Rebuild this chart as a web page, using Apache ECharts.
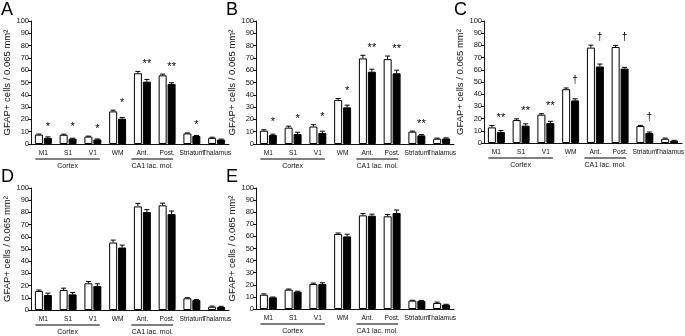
<!DOCTYPE html>
<html>
<head>
<meta charset="utf-8">
<script src="https://cdn.jsdelivr.net/npm/echarts@6/dist/echarts.min.js"></script>
<style>
html, body { margin: 0; padding: 0; background: #fff; }
#chart { width: 685px; height: 336px; }
</style>
</head>
<body>
<div id="chart"></div>
<script>
const categories = ['M1', 'S1', 'V1', 'WM', 'Ant.', 'Post.', 'Striatum', 'Thalamus']
const yTicks = [0, 10, 20, 30, 40, 50, 60, 70, 80, 90, 100]
const yTitle = 'GFAP+ cells / 0.065 mm²'

// panel A
const aWhite = [7.6, 7.5, 6, 26.5, 57.5, 55.8, 8.6, 5]
const aWhiteErr = [0.5, 0.5, 0.4, 1, 1.5, 1, 0.4, 0.5]
const aBlack = [5, 4.3, 3.7, 20.6, 50.7, 48.8, 6.5, 3.6]
const aBlackErr = [0.8, 0.4, 0.4, 1, 1.8, 1, 0.4, 0.4]
const aMarks = ['*', '*', '*', '*', '**', '**', '*', '']

// panel B
const bWhite = [10.8, 13.3, 14.2, 35.8, 69.6, 69, 10, 4.3]
const bWhiteErr = [0.8, 1.2, 1.5, 1.2, 2.5, 2.5, 0.5, 0.5]
const bBlack = [7.3, 8.1, 8.9, 29.8, 58.8, 57.5, 7, 4.5]
const bBlackErr = [0.7, 1.5, 1.5, 1.8, 2, 2.5, 0.7, 0.5]
const bMarks = ['*', '*', '*', '*', '**', '**', '**', '']

// panel C
const cWhite = [12.8, 18.8, 23.2, 44.1, 78.2, 78.7, 13.9, 3.5]
const cWhiteErr = [1.5, 1, 0.8, 1, 2, 1.3, 0.5, 0.5]
const cBlack = [9, 14.2, 16.3, 34.9, 62.7, 61, 8.2, 1.9]
const cBlackErr = [1.3, 1.5, 1.5, 1.3, 2, 1, 0.8, 0.3]
const cMarks = ['**', '**', '**', '†', '†', '†', '†', '']

// panel D
const dWhite = [15.6, 16.4, 21.9, 55.3, 84.9, 85.8, 9.6, 2.7]
const dWhiteErr = [0.8, 1.5, 1.5, 2, 2.5, 1.8, 0.5, 0.5]
const dBlack = [12.3, 12.8, 19.7, 51.2, 80.3, 78.6, 8.2, 2.5]
const dBlackErr = [1.5, 1.5, 1.8, 2, 2, 2.5, 0.4, 0.5]
const dMarks = ['', '', '', '', '', '', '', '']

// panel E
const eWhite = [11.8, 16, 20.7, 62, 77.4, 76.6, 6.9, 5]
const eWhiteErr = [0.7, 0.5, 0.7, 0.8, 1.5, 1.5, 0.3, 0.7]
const eBlack = [9.6, 14.3, 20.7, 60, 77.1, 79.3, 6.7, 3.6]
const eBlackErr = [0.3, 0.4, 1, 1.8, 1.3, 2.5, 0.4, 0.3]
const eMarks = ['', '', '', '', '', '', '', '']

const panels = [
  { letter: 'A', white: aWhite, whiteErr: aWhiteErr, black: aBlack, blackErr: aBlackErr, marks: aMarks, left: 31, top: 21, height: 123 },
  { letter: 'B', white: bWhite, whiteErr: bWhiteErr, black: bBlack, blackErr: bBlackErr, marks: bMarks, left: 256, top: 21, height: 123 },
  { letter: 'C', white: cWhite, whiteErr: cWhiteErr, black: cBlack, blackErr: cBlackErr, marks: cMarks, left: 484, top: 21, height: 122 },
  { letter: 'D', white: dWhite, whiteErr: dWhiteErr, black: dBlack, blackErr: dBlackErr, marks: dMarks, left: 31, top: 188, height: 122 },
  { letter: 'E', white: eWhite, whiteErr: eWhiteErr, black: eBlack, blackErr: eBlackErr, marks: eMarks, left: 256, top: 188, height: 121 }
]

const FONT = 'Liberation Sans, Arial, sans-serif'
const BAR_W = 8
const HALF = 4.5

const chart = echarts.init(document.getElementById('chart'), null, { renderer: 'canvas' })

const grid = []
const xAxis = []
const yAxis = []
const series = []

panels.forEach((p, i) => {
  grid.push({ left: p.left, top: p.top, width: 198, height: p.height, outerBoundsMode: 'none' })
  xAxis.push({
    type: 'category',
    gridIndex: i,
    data: categories,
    axisLine: { lineStyle: { color: '#111', width: 1 } },
    axisTick: { show: false },
    axisLabel: { fontSize: 6.6, color: '#111', fontFamily: FONT, margin: 6, interval: 0 }
  })
  yAxis.push({
    type: 'value',
    gridIndex: i,
    min: yTicks[0],
    max: yTicks[yTicks.length - 1],
    interval: 10,
    name: yTitle,
    nameLocation: 'middle',
    nameGap: 17,
    nameTextStyle: { fontSize: 9.5, color: '#111', fontFamily: FONT },
    axisLine: { show: true, lineStyle: { color: '#111', width: 1 } },
    axisTick: { show: true, length: 3, lineStyle: { color: '#111' } },
    axisLabel: { fontSize: 7.5, color: '#111', fontFamily: FONT, margin: 2 },
    splitLine: { show: false }
  })
  series.push({
    type: 'bar',
    xAxisIndex: i,
    yAxisIndex: i,
    data: p.white,
    barWidth: BAR_W,
    barGap: '12%',
    itemStyle: { color: '#fff', borderColor: '#000', borderWidth: 1 }
  })
  series.push({
    type: 'bar',
    xAxisIndex: i,
    yAxisIndex: i,
    data: p.black,
    barWidth: BAR_W,
    barGap: '12%',
    itemStyle: { color: '#000', borderColor: '#000', borderWidth: 1 }
  })
  // error bars + significance marks
  series.push({
    type: 'custom',
    xAxisIndex: i,
    yAxisIndex: i,
    data: categories.map((c, j) => [j, p.white[j]]),
    encode: { x: 0, y: 1 },
    z: 5,
    renderItem(params, api) {
      const j = params.dataIndex
      const center = api.coord([j, 0])[0]
      const children = []
      const tops = [
        [center - HALF, p.white[j], p.whiteErr[j]],
        [center + HALF, p.black[j], p.blackErr[j]]
      ]
      tops.forEach(([x, v, e]) => {
        const y0 = api.coord([j, v])[1]
        const y1 = api.coord([j, v + e])[1]
        children.push({ type: 'line', shape: { x1: x, y1: y0, x2: x, y2: y1 }, style: { stroke: '#000', lineWidth: 1 } })
        children.push({ type: 'line', shape: { x1: x - 2.5, y1: y1, x2: x + 2.5, y2: y1 }, style: { stroke: '#000', lineWidth: 1 } })
      })
      if (p.marks[j]) {
        const topVal = Math.max(p.white[j] + p.whiteErr[j], p.black[j] + p.blackErr[j])
        const ym = api.coord([j, topVal])[1] - 3
        const isDagger = p.marks[j] === '†'
        children.push({
          type: 'text',
          x: center + HALF,
          y: isDagger ? ym : ym + 1,
          style: {
            text: p.marks[j],
            fontSize: isDagger ? 10 : 11,
            fontFamily: FONT,
            fill: '#000',
            textAlign: 'center',
            textVerticalAlign: 'bottom'
          }
        })
      }
      return { type: 'group', children }
    }
  })
})

chart.setOption({
  animation: false,
  backgroundColor: '#fff',
  grid,
  xAxis,
  yAxis,
  series
})

// panel letters and region groupings below the axes
const graphic = []
panels.forEach((p, i) => {
  graphic.push({
    type: 'text',
    left: p.left - 30,
    top: p.top - 20,
    style: { text: p.letter, fontSize: 18, fontFamily: FONT, fill: '#000' }
  })
  const px = c => chart.convertToPixel({ xAxisIndex: i }, c)
  const base = p.top + p.height
  const groups = [
    { name: 'Cortex', from: px('M1') - 8, to: px('V1') + 7 },
    { name: 'CA1 lac. mol.', from: px('Ant.') - 11, to: px('Post.') + 6 }
  ]
  groups.forEach(g => {
    graphic.push({
      type: 'line',
      shape: { x1: g.from, y1: base + 15, x2: g.to, y2: base + 15 },
      style: { stroke: '#000', lineWidth: 1.2 }
    })
    graphic.push({
      type: 'text',
      x: (g.from + g.to) / 2,
      y: base + 19,
      style: { text: g.name, fontSize: 7, fontFamily: FONT, fill: '#111', textAlign: 'center', textVerticalAlign: 'top' }
    })
  })
})
chart.setOption({ graphic })
</script>
</body>
</html>
